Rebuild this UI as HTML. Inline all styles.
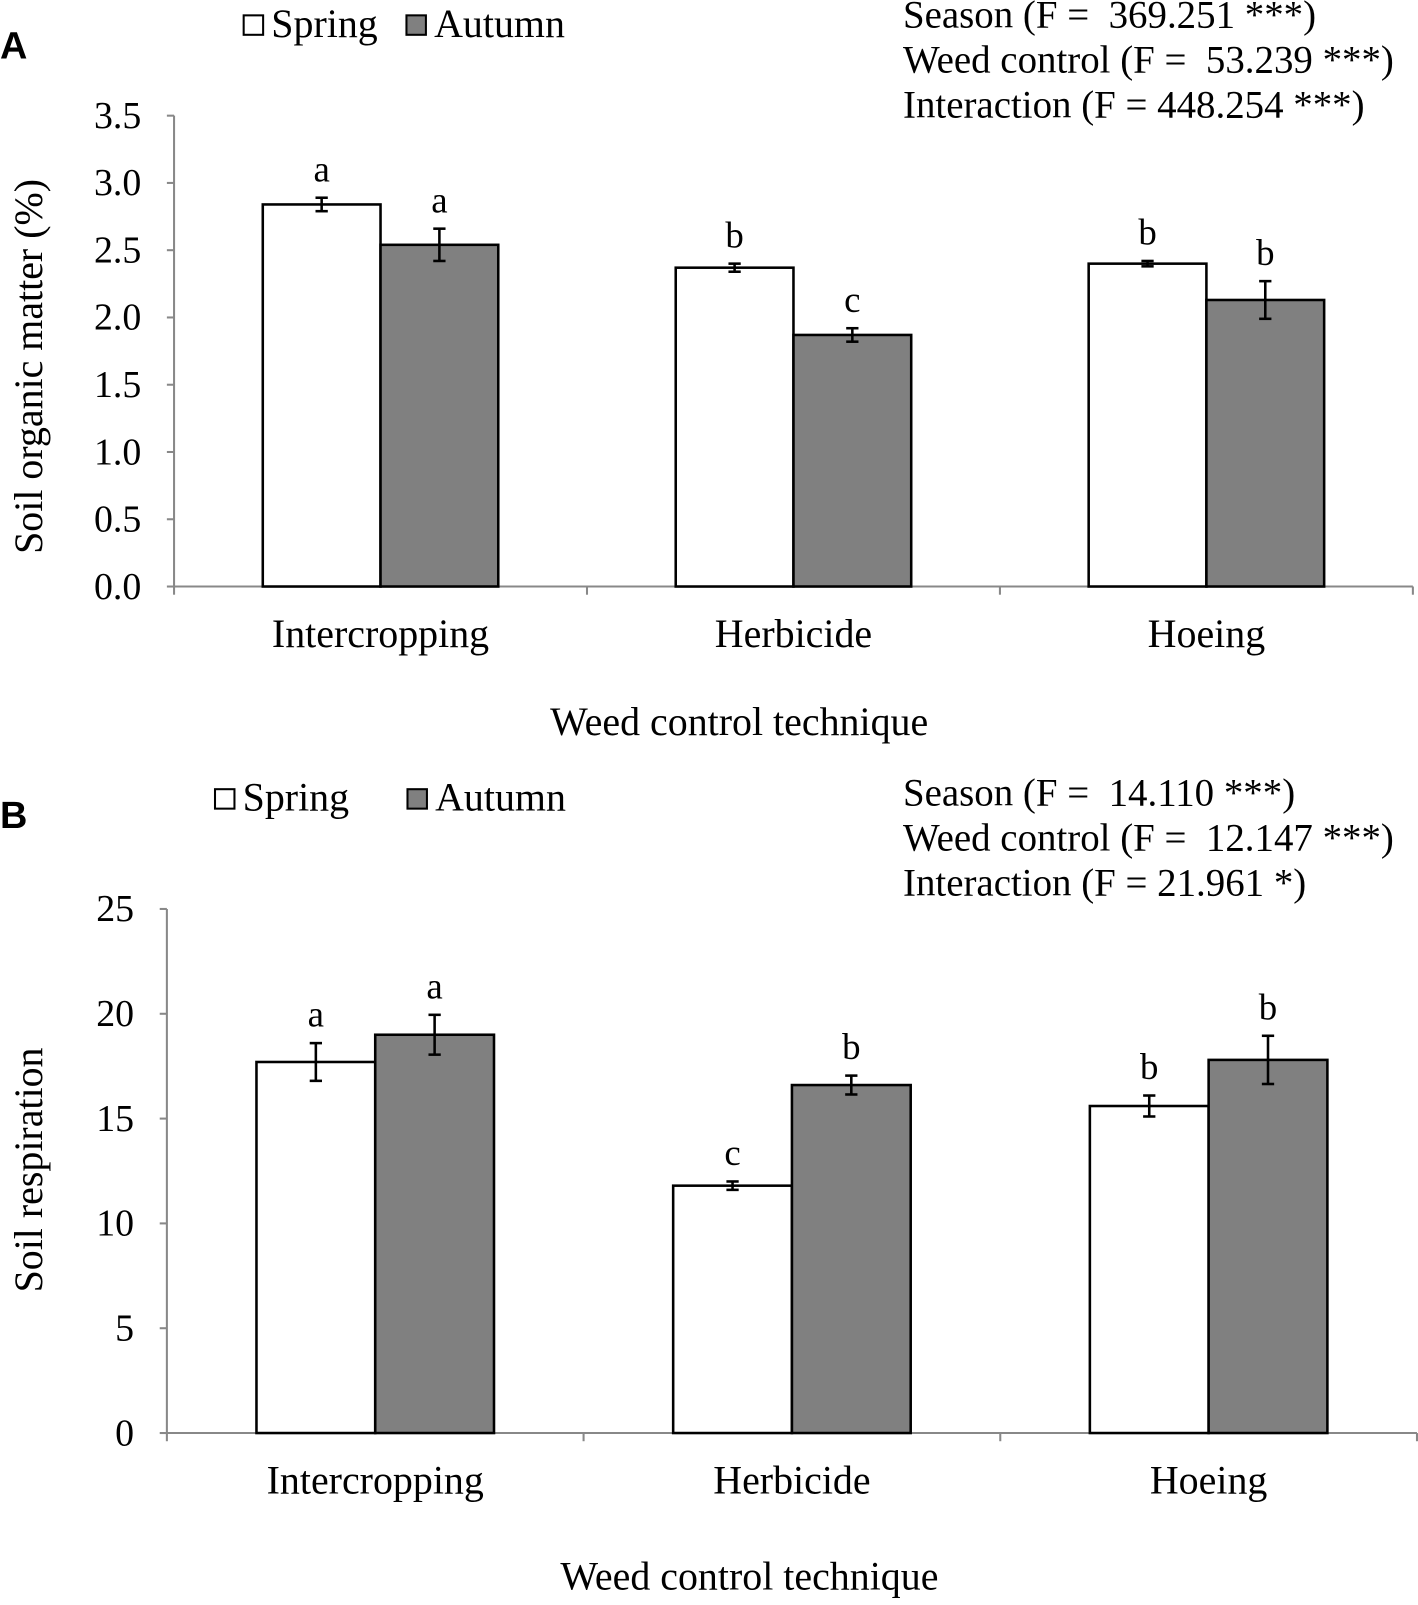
<!DOCTYPE html>
<html><head><meta charset="utf-8"><style>
body{margin:0;background:#fff}
svg{display:block}
text{font-family:"Liberation Serif",serif;fill:#000;white-space:pre}
</style></head><body>
<svg id="svg" width="1418" height="1605" viewBox="0 0 1385 1568" preserveAspectRatio="none" xmlns="http://www.w3.org/2000/svg">
<text x="0" y="57" style="font-family:'Liberation Sans',sans-serif;font-weight:bold;font-size:37px">A</text>
<text x="0" y="809" style="font-family:'Liberation Sans',sans-serif;font-weight:bold;font-size:37px">B</text>
</svg>
<script>
const categories=["Intercropping","Herbicide","Hoeing"];
const somSpring=[2.84,2.37,2.40];
const somAutumn=[2.54,1.87,2.13];
const somSpringErr=[0.05,0.03,0.02];
const somAutumnErr=[0.12,0.05,0.14];
const somSpringLetters=["a","b","b"];
const somAutumnLetters=["a","c","b"];
const somTicks=["0.0","0.5","1.0","1.5","2.0","2.5","3.0","3.5"];
const somStats=["Season (F =\u00a0\u00a0369.251 ***)","Weed control (F =\u00a0\u00a053.239 ***)","Interaction (F = 448.254 ***)"];
const respSpring=[17.7,11.8,15.6];
const respAutumn=[19.0,16.6,17.8];
const respSpringErr=[0.9,0.2,0.5];
const respAutumnErr=[0.95,0.45,1.15];
const respSpringLetters=["a","c","b"];
const respAutumnLetters=["a","b","b"];
const respTicks=["0","5","10","15","20","25"];
const respStats=["Season (F =\u00a0\u00a014.110 ***)","Weed control (F =\u00a0\u00a012.147 ***)","Interaction (F = 21.961 *)"];

const svg=document.getElementById('svg');
const NS="http://www.w3.org/2000/svg";
function mk(tag,attrs,parent){const e=document.createElementNS(NS,tag);for(const k in attrs)e.setAttribute(k,attrs[k]);(parent||svg).appendChild(e);return e;}
function txt(x,y,s,size,anchor,parent){const t=mk('text',{x:x,y:y,'font-size':size,'text-anchor':anchor||'start'},parent);t.textContent=s;return t;}

function panel(o){
  const g=mk('g',{});
  
  
  const ys=v=>o.y0-(v/o.ymax)*(o.y0-o.y1);
  const catW=(o.x1-o.x0)/categories.length;
  const ya=mk('line',{x1:o.x0,y1:o.y1,x2:o.x0,y2:o.y0,stroke:'#888','stroke-width':2},g);
  
  const xa=mk('line',{x1:o.x0,y1:o.y0,x2:o.x1,y2:o.y0,stroke:'#888','stroke-width':2},g);
  
  o.ticks.forEach((t,i)=>{
    const v=o.ymax*i/(o.ticks.length-1);const y=ys(v);
    mk('line',{x1:o.x0-7,y1:y,x2:o.x0,y2:y,stroke:'#888','stroke-width':2},g);
    const tl=txt(o.x0-32,y+12,t,37,'end',g);
    
  });
  for(let i=0;i<=categories.length;i++){
    const x=o.x0+i*catW;mk('line',{x1:x,y1:o.y0,x2:x,y2:o.y0+8,stroke:'#888','stroke-width':2},g);
  }
  const bw=o.bw;
  categories.forEach((c,i)=>{
    const cx=o.x0+catW*(i+0.5);
    const cl=txt(cx,o.catY,c,39,'middle',g);
    
    [[o.spring,o.sErr,o.sL,'#fff',cx-bw,'spring'],[o.autumn,o.aErr,o.aL,'#808080',cx,'autumn']].forEach(s=>{
      const v=s[0][i],e=s[1][i],x=s[4];
      const r=mk('rect',{x:x,y:ys(v),width:bw,height:o.y0-ys(v),fill:s[3],stroke:'#000','stroke-width':2.5},g);
      
      
      const ex=x+bw/2,yt=ys(v+e),yb=ys(v-e);
      mk('line',{x1:ex,y1:yt,x2:ex,y2:yb,stroke:'#000','stroke-width':2.5},g);
      mk('line',{x1:ex-6,y1:yt,x2:ex+6,y2:yt,stroke:'#000','stroke-width':2.5},g);
      mk('line',{x1:ex-6,y1:yb,x2:ex+6,y2:yb,stroke:'#000','stroke-width':2.5},g);
      const lt=txt(ex,yt-16,s[2][i],36,'middle',g);
      
    });
  });
  const yt=txt(0,0,o.ytitle,39,'middle',g);
  yt.setAttribute('transform','translate(41,'+o.ytY+') rotate(-90)');
  
  const xt=txt(o.xtX,o.xtY,'Weed control technique',39,'middle',g);
  
  const l1=mk('rect',{x:o.lx1,y:o.ly-21,width:19,height:19,fill:'#fff',stroke:'#000','stroke-width':2},g);
  
  const lt1=txt(o.lx1+27,o.ly,'Spring',39,'start',g);
  
  const l2=mk('rect',{x:o.lx2,y:o.ly-21,width:19,height:19,fill:'#808080',stroke:'#000','stroke-width':2},g);
  
  const lt2=txt(o.lx2+27,o.ly,'Autumn',39,'start',g);
  
  o.stats.forEach((s,i)=>{
    const st=txt(882,o.sy+44*i,s,38,'start',g);
    
  });
}
panel({name:'chart-soil-organic-matter',x0:170,x1:1380,y0:573,y1:113,ymax:3.5,bw:115,ticks:somTicks,
  spring:somSpring,autumn:somAutumn,sErr:somSpringErr,aErr:somAutumnErr,sL:somSpringLetters,aL:somAutumnLetters,
  catY:632,ytitle:'Soil organic matter (%)',ytY:358,xtX:722,xtY:718,lx1:238,lx2:397,ly:36,stats:somStats,sy:27});
panel({name:'chart-soil-respiration',x0:163,x1:1384,y0:1400,y1:888,ymax:25,bw:116,ticks:respTicks,
  spring:respSpring,autumn:respAutumn,sErr:respSpringErr,aErr:respAutumnErr,sL:respSpringLetters,aL:respAutumnLetters,
  catY:1459,ytitle:'Soil respiration',ytY:1143,xtX:732,xtY:1553,lx1:210,lx2:398,ly:792,stats:respStats,sy:787});
</script>
</body></html>
